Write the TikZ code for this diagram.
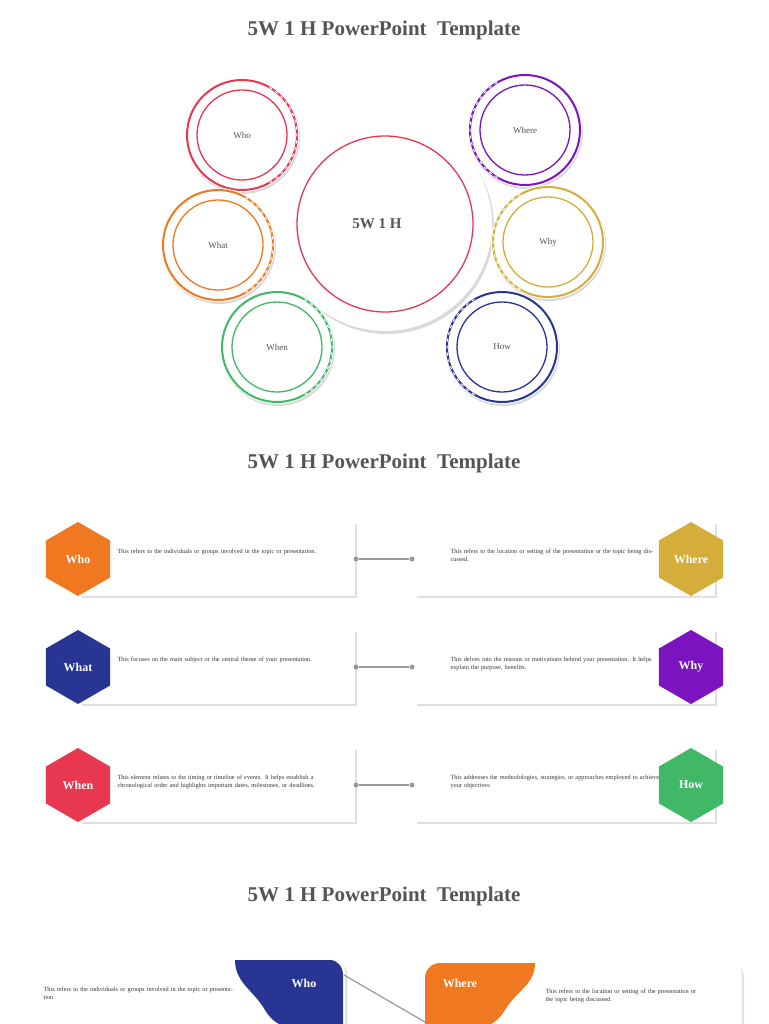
\documentclass[tikz,border=0pt]{standalone}
\usepackage{fontspec}
\setmainfont{Liberation Serif}
\usetikzlibrary{shadows,calc}
\definecolor{cOr}{HTML}{F07820}
\definecolor{cGo}{HTML}{D4AD3A}
\definecolor{cNa}{HTML}{283593}
\definecolor{cPu}{HTML}{7B14BF}
\definecolor{cRe}{HTML}{E8384F}
\definecolor{cGr}{HTML}{40B866}
\definecolor{cTi}{HTML}{555555}
\tikzset{
 ttl/.style={font=\fontsize{21}{24}\selectfont\bfseries,text=cTi},
 lbl/.style={font=\fontsize{9}{10}\selectfont,text=cTi},
 desc/.style={font=\fontsize{6.3}{7.6}\selectfont,text=black!80,align=left,anchor=north west,text width=#1},
 card/.style={fill=white,drop shadow={shadow xshift=2pt,shadow yshift=-2pt,opacity=.25}},
 hexlbl/.style={font=\fontsize{12}{14}\selectfont\bfseries,text=white},
 dotc/.style={circle,fill=gray!80,inner sep=0pt,minimum size=5pt},
}
\newcommand{\ring}[5]{% name, x, y, color, dashed start angle
 \fill[white,drop shadow={shadow xshift=1pt,shadow yshift=-2pt,opacity=.3}] (#2,#3) circle (57);
 \draw[#4,line width=2pt] (#2,#3) circle (55);
 \draw[white,line width=1pt,dash pattern=on 3pt off 4pt] (#2,#3) ++(#5:55) arc (#5:#5+120:55);
 \draw[#4,line width=1.3pt] (#2,#3) circle (45);
 \node[lbl] (#1) at (#2,#3) {#1};
}
\newcommand{\hexa}[4]{% name,x,y,color
 \fill[#4] (#2,#3) ++(90:37) -- ++(210:37) -- ++(270:37) -- ++(330:37) -- ++(30:37) -- ++(90:37) -- cycle;
 \node[hexlbl] (h#1) at (#2,#3) {#1};
}
\begin{document}
\begin{tikzpicture}[x=1pt,y=-1pt]
\useasboundingbox (0,0) rectangle (768,1024);
% --- top
\node[ttl] (t1) at (384,30) {5W 1 H PowerPoint\ \ Template};
\fill[white,drop shadow={shadow xshift=2pt,shadow yshift=-3pt,opacity=.3}] (385,224) circle (107);
\draw[cRe,line width=1.3pt] (385,224) circle (88);
\node[font=\fontsize{15}{18}\selectfont\bfseries,text=cTi] (c) at (377,224) {5W 1 H};
\ring{Who}{242}{135}{cRe}{-60}
\ring{Where}{525}{130}{cPu}{120}
\ring{What}{218}{245}{cOr}{-60}
\ring{Why}{548}{242}{cGo}{120}
\ring{When}{277}{347}{cGr}{-60}
\ring{How}{502}{347}{cNa}{120}
% --- middle
\node[ttl] (t2) at (384,463) {5W 1 H PowerPoint\ \ Template};
\foreach \y/\lc/\ln/\lt/\rc/\rn/\rt in {
 559/cOr/Who/{This refers to the individuals or groups involved in the topic or presentation.}/cGo/Where/{This refers to the location or setting of the presentation or the topic being discussed.},
 667/cNa/What/{This focuses on the main subject or the central theme of your presentation.}/cPu/Why/{This delves into the reasons or motivations behind your presentation. It helps explain the purpose, benefits,},
 785/cRe/When/{This element relates to the timing or timeline of events. It helps establish a chronological order and highlights important dates, milestones, or deadlines.}/cGr/How/{This addresses the methodologies, strategies, or approaches employed to achieve your objectives}}{
 \fill[card] (80,\y-37) rectangle (355,\y+37);
 \fill[card] (415,\y-37) rectangle (715,\y+37);
 \hexa{\ln}{78}{\y}{\lc}
 \hexa{\rn}{691}{\y}{\rc}
 \node[desc=215pt] (d\ln) at (114,\y-13) {\lt};
 \node[desc=212pt] (d\rn) at (447,\y-13) {\rt};
 \node[dotc] (a\ln) at (356,\y) {};
 \node[dotc] (b\rn) at (412,\y) {};
 \draw[gray!80,line width=1.5pt] (a\ln) -- (b\rn);
}
% --- bottom
\node[ttl] (t3) at (384,896) {5W 1 H PowerPoint\ \ Template};
\fill[card,rounded corners=12pt] (28,960) rectangle (345,1040);
\fill[card,rounded corners=12pt] (425,963) rectangle (742,1040);
\fill[cNa] (235,960) -- (330,960) to[out=0,in=90] (343,975) -- (343,1040) -- (330,1030)
 to[out=180,in=-60] (265,1010) to[out=120,in=-90] (235,960) -- cycle;
\fill[cOr] (535,963) -- (440,963) to[out=180,in=90] (425,978) -- (425,1040) -- (440,1030)
 to[out=0,in=-120] (505,1010) to[out=60,in=-90] (535,963) -- cycle;
\node[hexlbl] (bWho) at (304,983) {Who};
\node[hexlbl] (bWhere) at (460,983) {Where};
\coordinate (lA) at (344,975);
\coordinate (lB) at (425,1022);
\draw[gray!80,line width=1.2pt] (lA) -- (lB);
\node[desc=190pt] (bd1) at (40,984) {This refers to the individuals or groups involved in the topic or presentation};
\node[desc=160pt] (bd2) at (542,986) {This refers to the location or setting of the presentation or the topic being discussed.};
\end{tikzpicture}
\end{document}
